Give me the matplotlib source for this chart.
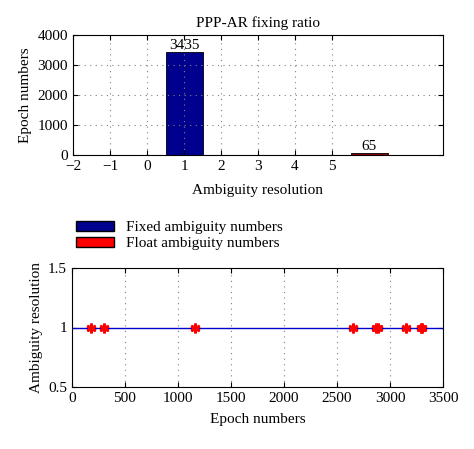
import matplotlib
matplotlib.use("Agg")
import matplotlib.pyplot as plt
import numpy as np
from matplotlib.patches import Patch

plt.rcParams['font.family'] = ['Liberation Serif', 'DejaVu Serif']
plt.rcParams['font.size'] = 11

# Bar chart data
bar_positions = [1, 6]
bar_values = [3435, 65]
bar_colors = ['#00008f', '#8b0000']
bar_labels = ['3435', '65']

# Time series data
epoch_start = 0
epoch_end = 3500
float_epochs = [180, 300, 1160, 2650, 2870, 2890, 3150, 3290, 3305]

fig = plt.figure(figsize=(4.74, 4.49), dpi=100)

ax1 = fig.add_axes([73 / 474, 1 - 155 / 449, 370 / 474, 120 / 449])
ax1.bar(bar_positions, bar_values, width=1.0, color=bar_colors, edgecolor='black', linewidth=0.6)
for x, v, lbl in zip(bar_positions, bar_values, bar_labels):
    ax1.text(x, v + 10, lbl, ha='center', va='bottom')
ax1.set_xlim(-2, 8)
ax1.set_ylim(0, 4000)
ax1.set_xticks(range(-2, 6))
ax1.set_yticks(range(0, 4001, 1000))
ax1.grid(True, linestyle=(0, (1, 4)), color='gray', linewidth=0.8)
ax1.set_title('PPP-AR fixing ratio', fontsize=11)
ax1.set_xlabel('Ambiguity resolution', labelpad=8)
ax1.set_ylabel('Epoch numbers')
ax1.tick_params(direction='in', top=True, right=True)

handles = [Patch(facecolor='#00008f', edgecolor='black', label='Fixed ambiguity numbers'),
           Patch(facecolor='#ff0000', edgecolor='black', label='Float ambiguity numbers')]
fig.legend(handles=handles, loc='upper left', bbox_to_anchor=(62 / 474, 1 - 207 / 449),
           frameon=False, handlelength=2.5, labelspacing=0.15)

ax2 = fig.add_axes([72 / 474, 1 - 387 / 449, 371 / 474, 119 / 449])
ax2.plot([epoch_start, epoch_end], [1, 1], color='#0000cc', linewidth=1)
ax2.plot(float_epochs, np.ones(len(float_epochs)), linestyle='none', marker=(6, 2, 0),
         color='red', markersize=7, markeredgewidth=2)
ax2.set_xlim(0, 3500)
ax2.set_ylim(0.5, 1.5)
ax2.set_xticks(range(0, 3501, 500))
ax2.set_yticks([0.5, 1, 1.5])
ax2.set_yticklabels(['0.5', '1', '1.5'])
ax2.grid(True, axis='x', linestyle=(0, (1, 4)), color='gray', linewidth=0.8)
ax2.set_xlabel('Epoch numbers', labelpad=6)
ax2.set_ylabel('Ambiguity resolution')
ax2.tick_params(direction='in', top=True, right=True)

fig.savefig('out.png', dpi=100)
